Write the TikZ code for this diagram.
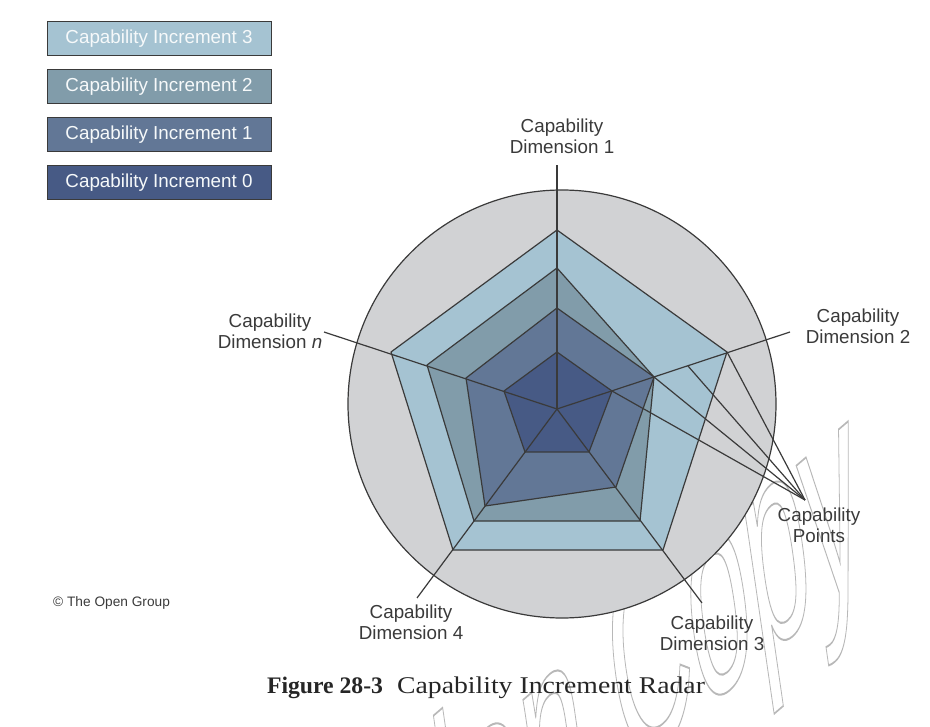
\documentclass[tikz,border=0pt]{standalone}
\usepackage{fontspec}
\setmainfont{Liberation Sans}
\newfontfamily\capfont[FakeStretch=1.155]{Liberation Serif}
\newfontfamily\figfont{Liberation Serif}
\usetikzlibrary{positioning}
\definecolor{disc}{HTML}{D1D2D4}
\definecolor{incthree}{HTML}{A5C3D2}
\definecolor{inctwo}{HTML}{819CAA}
\definecolor{incone}{HTML}{627796}
\definecolor{inczero}{HTML}{475A85}
\definecolor{ink}{HTML}{3A3A3A}
\begin{document}
\begin{tikzpicture}[
x=1pt,y=-1pt,
legendbox/.style={
	draw=ink,
	line width=1pt,
	minimum width=224pt,
	minimum height=34pt,
	inner sep=0pt,
	outer sep=0pt,
	text=white!90!incthree,
	font=\fontsize{18.8}{21}\selectfont
},
dimlabel/.style={
	align=center,
	inner sep=0pt,
	text=ink,
	font=\fontsize{18.8}{21}\selectfont
},
ring/.style={
	draw=ink,
	line width=1.2pt,
	line join=round
},
spoke/.style={
	draw=ink,
	line width=1.2pt
},
node distance=14pt
]
\useasboundingbox (0,0) rectangle (930,727);

% outlined text behind the disc
\begin{scope}
\clip (0,0) rectangle (930,727);
\begin{scope}[cm={1.05,0.9,-0.4,2.77,(870,567)}]
\node[transform shape,anchor=base east,inner sep=0pt,font=\fontsize{100}{100}\selectfont] (mark)
{\special{pdf:code 0.72 G 1 Tr 0.7 w}tion Copy};
\end{scope}
\end{scope}

\node[legendbox,fill=incthree] at (159,38.5) (inc3) {Capability Increment 3};
\node[legendbox,fill=inctwo,below=of inc3] (inc2) {Capability Increment 2};
\node[legendbox,fill=incone,below=of inc2] (inc1) {Capability Increment 1};
\node[legendbox,fill=inczero,below=of inc1] (inc0) {Capability Increment 0};

\draw[ring,fill=disc] (562,404) circle (214pt);

\coordinate (o) at (557,409);
\coordinate (a3) at (557,230);
\coordinate (b3) at (727,352);
\coordinate (c3) at (663,550);
\coordinate (d3) at (453,550);
\coordinate (e3) at (391,352);
\coordinate (a2) at (557,268);
\coordinate (b2) at (654,377);
\coordinate (c2) at (640,521);
\coordinate (d2) at (474,521);
\coordinate (e2) at (427,365);
\coordinate (a1) at (557,308);
\coordinate (c1) at (616,487);
\coordinate (d1) at (485,506);
\coordinate (e1) at (466,378);
\coordinate (a0) at (557,352);
\coordinate (b0) at (612,391);
\coordinate (c0) at (589,452);
\coordinate (d0) at (525,452);
\coordinate (e0) at (504,391);

\draw[ring,fill=incthree] (a3) -- (b3) -- (c3) -- (d3) -- (e3) -- cycle;
\draw[ring,fill=inctwo] (a2) -- (b2) -- (c2) -- (d2) -- (e2) -- cycle;
\draw[ring,fill=incone] (a1) -- (b2) -- (c1) -- (d1) -- (e1) -- cycle;
\draw[ring,fill=inczero] (a0) -- (b0) -- (c0) -- (d0) -- (e0) -- cycle;

\node[dimlabel] at (562,136) (dim1) {Capability\\Dimension 1};
\node[dimlabel] at (858,326) (dim2) {Capability\\Dimension 2};
\node[dimlabel] at (712,633) (dim3) {Capability\\Dimension 3};
\node[dimlabel] at (411,622) (dim4) {Capability\\Dimension 4};
\node[dimlabel] at (270,331) (dimn) {Capability\\Dimension \textit{n}};
\node[dimlabel] at (819,525) (points) {Capability\\Points};

\coordinate (end1) at (557,165);
\coordinate (end2) at (790,332);
\coordinate (end3) at (702,603);
\coordinate (end4) at (417,598);
\coordinate (endn) at (324,332);
\coordinate (tip) at (805,500);
\coordinate (mid) at (688,366);

\draw[spoke] (o) -- (end1);
\draw[spoke] (o) -- (end2);
\draw[spoke] (o) -- (end3);
\draw[spoke] (o) -- (end4);
\draw[spoke] (o) -- (endn);
\draw[spoke] (b0) -- (tip);
\draw[spoke] (b2) -- (tip);
\draw[spoke] (mid) -- (tip);
\draw[spoke] (b3) -- (tip);

\node[anchor=west,inner sep=0pt,text=ink,font=\fontsize{13.7}{16}\selectfont] at (53,602.5) (copyr)
{\textcopyright{} The Open Group};
\node[inner sep=0pt,text=black!85,font=\capfont\fontsize{24}{26}\selectfont] at (486,688) (caption)
{{\figfont\bfseries\fontsize{23.7}{26}\selectfont Figure 28-3}\hspace{14pt}Capability Increment Radar};
\end{tikzpicture}
\end{document}
